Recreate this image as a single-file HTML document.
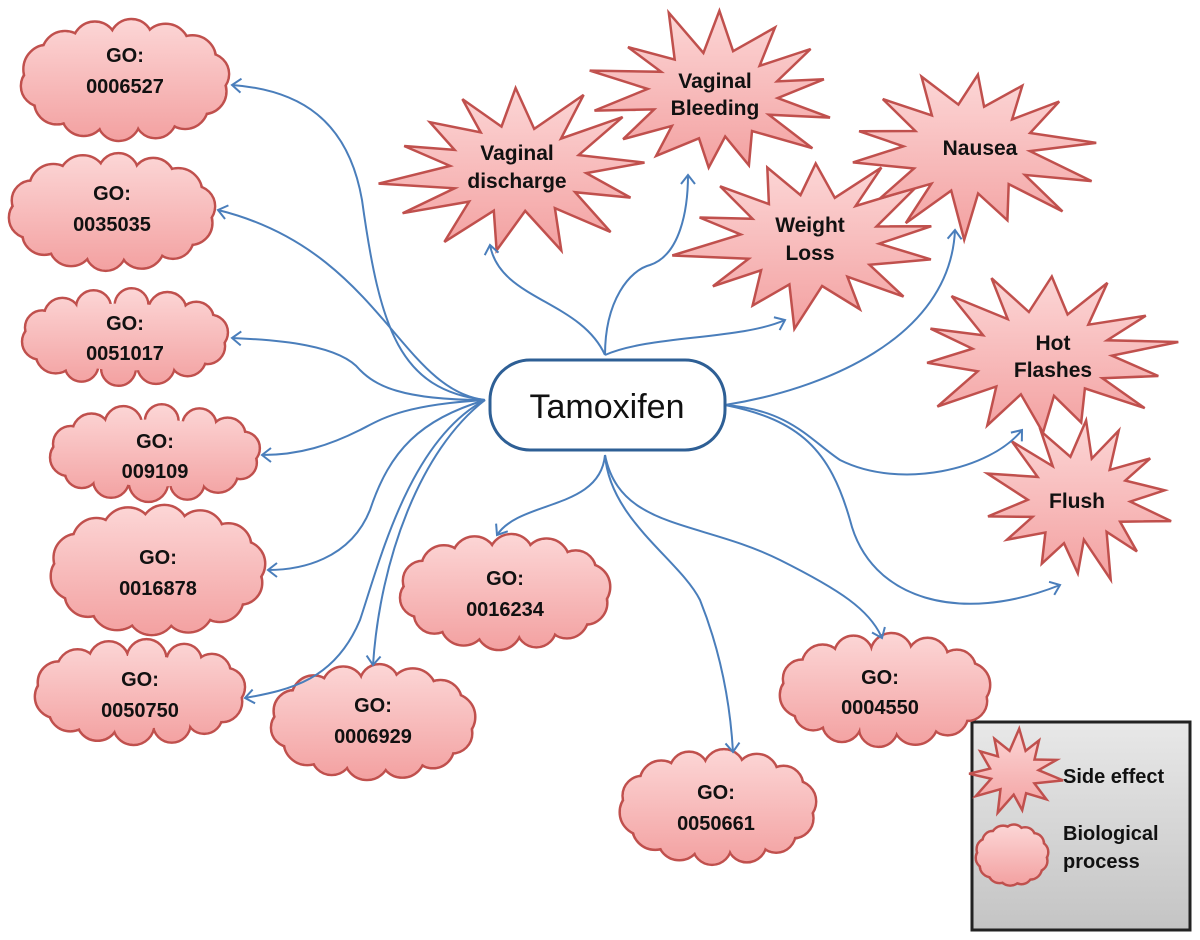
<!DOCTYPE html>
<html><head><meta charset="utf-8"><style>
html,body{margin:0;padding:0;background:#fff;}
svg{display:block;}
.t{font-family:"Liberation Sans",sans-serif;font-weight:bold;font-size:20px;fill:#111;text-anchor:middle;}
.s{font-size:21px;}
.c{fill:none;stroke:#4a7ebb;stroke-width:2;}
</style></head><body>
<svg id="s" width="1200" height="940" viewBox="0 0 1200 940" xmlns="http://www.w3.org/2000/svg">
<defs>
<linearGradient id="lg" x1="0" y1="0" x2="0" y2="1"><stop offset="0" stop-color="#e8e8e8"/><stop offset="1" stop-color="#c4c4c4"/></linearGradient>
<linearGradient id="pk" x1="0" y1="0" x2="0" y2="1"><stop offset="0" stop-color="#fcd6d6"/><stop offset="1" stop-color="#f3a1a1"/></linearGradient>
<marker id="ar" markerWidth="16" markerHeight="16" refX="11" refY="8" orient="auto" markerUnits="userSpaceOnUse"><path d="M2,1 L11,8 L2,15" fill="none" stroke="#4a7ebb" stroke-width="2"/></marker>
</defs>
<rect x="972" y="722" width="218" height="208" fill="url(#lg)" stroke="#222" stroke-width="3"/>
<g id="shapes"></g>
<g id="conn">
<path class="c" marker-end="url(#ar)" d="M485,400 C400,390 380,330 362,200 C348,120 300,90 232,85"/>
<path class="c" marker-end="url(#ar)" d="M485,400 C400,390 380,250 218,210"/>
<path class="c" marker-end="url(#ar)" d="M485,400 C400,400 375,385 360,370 C340,345 280,340 232,338"/>
<path class="c" marker-end="url(#ar)" d="M485,400 C400,405 380,420 360,430 C330,445 300,455 262,455"/>
<path class="c" marker-end="url(#ar)" d="M485,400 C420,420 390,450 370,510 C350,560 300,570 268,570"/>
<path class="c" marker-end="url(#ar)" d="M485,400 C410,440 380,560 360,620 C335,680 290,690 245,698"/>
<path class="c" marker-end="url(#ar)" d="M485,400 C420,450 380,560 373,665"/>
<path class="c" marker-end="url(#ar)" d="M605,455 C600,510 520,500 497,535"/>
<path class="c" marker-end="url(#ar)" d="M605,455 C610,520 680,560 700,600 C720,650 730,700 733,752"/>
<path class="c" marker-end="url(#ar)" d="M605,455 C620,530 700,520 780,560 C840,590 870,610 882,638"/>
<path class="c" marker-end="url(#ar)" d="M725,405 C800,420 830,450 850,520 C870,600 960,625 1060,585"/>
<path class="c" marker-end="url(#ar)" d="M725,405 C790,410 810,440 840,460 C900,490 990,470 1022,430"/>
<path class="c" marker-end="url(#ar)" d="M725,405 C820,390 950,340 955,230"/>
<path class="c" marker-end="url(#ar)" d="M605,355 C650,335 740,340 785,320"/>
<path class="c" marker-end="url(#ar)" d="M605,355 C605,300 630,270 650,265 C680,255 688,210 688,175"/>
<path class="c" marker-end="url(#ar)" d="M605,355 C580,300 500,300 490,245"/>
</g>
<rect x="490" y="360" width="235" height="90" rx="40" fill="#fff" stroke="#2e5f95" stroke-width="3"/>
<text x="607" y="418" style="font-family:'Liberation Sans',sans-serif;font-size:34px;fill:#111;text-anchor:middle">Tamoxifen</text>
<g>
<text class="t" x="125" y="62">GO:</text><text class="t" x="125" y="93">0006527</text>
<text class="t" x="112" y="200">GO:</text><text class="t" x="112" y="231">0035035</text>
<text class="t" x="125" y="330">GO:</text><text class="t" x="125" y="360">0051017</text>
<text class="t" x="155" y="448">GO:</text><text class="t" x="155" y="478">009109</text>
<text class="t" x="158" y="564">GO:</text><text class="t" x="158" y="595">0016878</text>
<text class="t" x="140" y="686">GO:</text><text class="t" x="140" y="717">0050750</text>
<text class="t" x="373" y="712">GO:</text><text class="t" x="373" y="743">0006929</text>
<text class="t" x="505" y="585">GO:</text><text class="t" x="505" y="616">0016234</text>
<text class="t" x="716" y="799">GO:</text><text class="t" x="716" y="830">0050661</text>
<text class="t" x="880" y="684">GO:</text><text class="t" x="880" y="714">0004550</text>
<text class="t s" x="517" y="160">Vaginal</text><text class="t s" x="517" y="188">discharge</text>
<text class="t s" x="715" y="88">Vaginal</text><text class="t s" x="715" y="115">Bleeding</text>
<text class="t s" x="810" y="232">Weight</text><text class="t s" x="810" y="260">Loss</text>
<text class="t s" x="980" y="155">Nausea</text>
<text class="t s" x="1053" y="350">Hot</text><text class="t s" x="1053" y="377">Flashes</text>
<text class="t s" x="1077" y="508">Flush</text>
<text class="t" x="1063" y="783" style="text-anchor:start">Side effect</text>
<text class="t" x="1063" y="840" style="text-anchor:start">Biological</text>
<text class="t" x="1063" y="868" style="text-anchor:start">process</text>
</g>
</svg>
<script>
(function(){
var NS="http://www.w3.org/2000/svg",g=document.getElementById("shapes");
var seed=7;function rnd(){seed=(seed*9301+49297)%233280;return seed/233280;}
function el(n,a){var e=document.createElementNS(NS,n);for(var k in a)e.setAttribute(k,a[k]);g.appendChild(e);return e;}
function cloud(cx,cy,rx,ry){
 var n=14,cs=[];
 for(var i=0;i<n;i++){var a=i/n*2*Math.PI+0.3;var r=Math.min(rx,ry)*(0.34+0.08*rnd());
  cs.push([cx+Math.cos(a)*(rx-r*0.95),cy+Math.sin(a)*(ry-r*0.95),r]);}
 cs.forEach(function(c){el("circle",{cx:c[0],cy:c[1],r:c[2],fill:"#f5b5b5",stroke:"#c0504d","stroke-width":2.5});});
 var gid="g"+Math.floor(cx)+"_"+Math.floor(cy);
 var lg=document.createElementNS(NS,"linearGradient");lg.setAttribute("id",gid);lg.setAttribute("gradientUnits","userSpaceOnUse");
 lg.setAttribute("x1",0);lg.setAttribute("y1",cy-ry);lg.setAttribute("x2",0);lg.setAttribute("y2",cy+ry);
 lg.innerHTML='<stop offset="0" stop-color="#fcd6d6"/><stop offset="1" stop-color="#f3a1a1"/>';
 document.querySelector("defs").appendChild(lg);
 cs.forEach(function(c){el("circle",{cx:c[0],cy:c[1],r:c[2]-1.3,fill:"url(#"+gid+")"});});
 el("ellipse",{cx:cx,cy:cy,rx:rx*0.8,ry:ry*0.7,fill:"url(#"+gid+")"});
}
function star(cx,cy,rx,ry,n){
 n=n||14;var p=[];
 for(var i=0;i<2*n;i++){var a=i/(2*n)*2*Math.PI+0.15*rnd()-Math.PI/2;var f=i%2?0.5+0.06*rnd():0.88+0.2*rnd();
  p.push((cx+Math.cos(a)*rx*f).toFixed(1)+","+(cy+Math.sin(a)*ry*f).toFixed(1));}
 el("polygon",{points:p.join(" "),fill:"url(#pk)",stroke:"#c0504d","stroke-width":2.5,"stroke-linejoin":"miter"});
}
cloud(125,80,104,60);cloud(112,212,103,58);cloud(125,337,103,48);cloud(155,453,105,48);
cloud(158,570,107,64);cloud(140,692,105,52);cloud(373,722,102,57);cloud(505,592,105,57);
cloud(718,807,98,57);cloud(885,690,105,56);cloud(1012,855,36,30);
star(515,170,128,82);star(715,95,122,82);star(810,240,130,84);star(970,150,120,84);
star(1043,355,130,80);star(1078,500,94,80);star(1015,772,46,42,11);
})();
</script>
</body></html>
